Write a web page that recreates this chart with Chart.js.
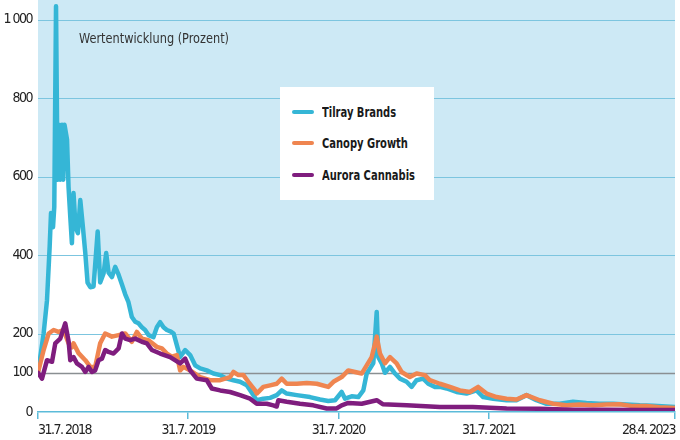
<!DOCTYPE html>
<html>
<head>
<meta charset="utf-8">
<script src="https://cdn.jsdelivr.net/npm/chart.js@4.4.1/dist/chart.umd.min.js"></script>
<style>
  html, body { margin: 0; padding: 0; background: #fff; }
  #wrap { position: relative; width: 680px; height: 440px; }
  #note { position: absolute; left: 79px; top: 30px; font: 14px "DejaVu Sans Condensed", "DejaVu Sans", sans-serif; color: #333; white-space: nowrap; transform: scaleX(0.9); transform-origin: left center; }
  #legend { position: absolute; left: 280px; top: 87px; width: 154px; height: 113px; background: #fff; }
  .item { position: absolute; left: 12px; height: 20px; display: flex; align-items: center; white-space: nowrap; font: bold 14px "DejaVu Sans Condensed", "DejaVu Sans", sans-serif; color: #1a1a1a; }
  .sw { width: 22px; height: 4px; border-radius: 2px; margin-right: 8px; }
  .tx { display: inline-block; transform: scaleX(0.79); transform-origin: left center; }
</style>
</head>
<body>
<div id="wrap">
  <canvas id="chart" width="680" height="440"></canvas>
  <div id="note">Wertentwicklung (Prozent)</div>
  <div id="legend">
    <div class="item" style="top:15px"><span class="sw" style="background:#35b6d6"></span><span class="tx">Tilray Brands</span></div>
    <div class="item" style="top:46px"><span class="sw" style="background:#ef8550"></span><span class="tx">Canopy Growth</span></div>
    <div class="item" style="top:78px"><span class="sw" style="background:#7f1d7e"></span><span class="tx">Aurora Cannabis</span></div>
  </div>
</div>
<script>
// x position along the axis (0 = 31.7.2018, 12 per year tick)
var tickPos = [0, 12, 24, 36, 50.91];
var tickLabels = ['31.7. 2018', '31.7. 2019', '31.7. 2020', '31.7. 2021', '28.4. 2023'];
var yTicks = [0, 100, 200, 400, 600, 800, 1000];
var gridVals = [100, 200, 400, 600, 800, 1000];

var tilrayX = [0, 0.45, 0.72, 0.93, 1.04, 1.2, 1.3, 1.44, 1.56, 1.68,
  1.78, 1.92, 2.02, 2.12, 2.32, 2.44, 2.58, 2.71, 2.84, 3.0,
  3.19, 3.38, 3.59, 3.78, 3.96, 4.18, 4.44, 4.77, 4.97, 5.24,
  5.45, 5.64, 5.91, 6.17, 6.44, 6.71, 6.97, 7.23, 7.5, 7.77,
  8.03, 8.3, 8.56, 8.83, 9.23, 9.5, 9.76, 10.03, 10.3, 10.62,
  10.84, 11.1, 11.36, 11.76, 12.16, 12.56, 12.96, 13.49, 14.02, 14.56,
  15.09, 15.62, 16.15, 16.69, 17.21, 17.48, 18.01, 18.55, 19.08, 19.48,
  19.88, 20.68, 21.74, 22.54, 23.2, 23.74, 24.27, 24.54, 25.07, 25.6,
  26.0, 26.27, 26.53, 26.8, 27.07, 27.2, 27.47, 27.73, 28.13, 28.53,
  28.93, 29.46, 29.86, 30.26, 30.79, 31.19, 31.72, 32.12, 32.66, 33.45,
  34.25, 35.05, 35.58, 36.38, 37.45, 38.24, 39.04, 39.84, 40.64, 41.7,
  42.76, 43.83, 44.89, 45.96, 47.03, 48.09, 49.15, 50.91];
var tilrayY = [100, 200, 285, 420, 507, 471, 522, 1034, 592, 732,
  592, 732, 592, 732, 694, 574, 497, 430, 558, 471,
  456, 540, 471, 405, 330, 318, 320, 460, 330, 353,
  405, 355, 344, 370, 350, 325, 300, 280, 242, 230,
  226, 216, 209, 196, 191, 216, 229, 216, 209, 205,
  200, 170, 140, 158, 145, 119, 111, 106, 98, 94,
  85, 81, 77, 68, 43, 30, 34, 36, 43, 55,
  47, 43, 38, 32, 28, 30, 51, 34, 40, 38,
  55, 98, 111, 125, 255, 140, 124, 100, 115, 98,
  85, 77, 64, 81, 85, 72, 64, 64, 60, 51,
  47, 55, 38, 34, 30, 30, 43, 30, 21, 21,
  26, 23, 21, 21, 19, 17, 16, 13];

var canopyX = [0, 0.45, 0.85, 1.25, 1.64, 2.04, 2.44, 2.71, 2.84, 3.24,
  3.78, 4.18, 4.57, 4.97, 5.37, 5.91, 6.44, 6.97, 7.5, 7.9,
  8.3, 8.83, 9.5, 9.9, 10.3, 10.7, 11.1, 11.36, 11.62, 12.16,
  12.96, 13.76, 14.56, 15.35, 15.62, 16.02, 16.42, 16.81, 17.35, 17.48,
  18.01, 18.55, 19.08, 19.48, 19.88, 20.68, 21.48, 22.28, 23.2, 23.61,
  24.27, 24.8, 25.33, 25.87, 26.27, 26.67, 27.07, 27.33, 27.73, 28.13,
  28.66, 29.06, 29.72, 30.26, 30.92, 31.32, 32.12, 32.92, 33.72, 34.52,
  35.18, 35.85, 36.65, 37.45, 38.24, 39.04, 40.1, 41.17, 42.24, 43.3,
  44.36, 45.43, 46.49, 47.55, 48.62, 49.68, 50.91];
var canopyY = [100, 158, 200, 209, 204, 209, 175, 165, 175, 150,
  132, 115, 115, 175, 200, 192, 196, 200, 179, 204,
  187, 183, 166, 162, 149, 141, 145, 106, 115, 106,
  89, 81, 81, 89, 102, 94, 94, 77, 55, 47,
  64, 68, 72, 85, 72, 72, 74, 72, 64, 77,
  89, 106, 102, 98, 119, 140, 192, 149, 124, 140,
  124, 102, 89, 98, 94, 81, 72, 64, 55, 51,
  64, 47, 38, 34, 32, 43, 30, 21, 17, 19,
  17, 19, 20, 15, 15, 12, 10];

var auroraX = [0, 0.32, 0.72, 1.12, 1.38, 1.78, 2.18, 2.45, 2.58, 2.84,
  3.11, 3.51, 3.78, 4.04, 4.31, 4.57, 4.84, 5.11, 5.37, 5.64,
  6.04, 6.44, 6.71, 6.97, 7.37, 7.77, 8.3, 8.7, 9.1, 9.76,
  10.56, 11.36, 11.76, 12.16, 12.69, 13.49, 13.89, 14.56, 15.35, 16.15,
  16.95, 17.48, 18.28, 18.81, 19.08, 19.21, 19.88, 20.94, 22.0, 23.07,
  23.87, 24.27, 24.8, 25.87, 27.07, 27.55, 29.46, 32.12, 34.75, 37.45,
  40.1, 42.76, 45.43, 48.09, 50.91];
var auroraY = [100, 85, 132, 128, 175, 187, 226, 179, 132, 140,
  124, 115, 102, 115, 102, 106, 132, 136, 158, 153,
  149, 162, 200, 187, 183, 187, 179, 175, 158, 149,
  140, 124, 136, 106, 85, 81, 60, 55, 51, 43,
  34, 21, 21, 17, 14, 30, 26, 21, 17, 9,
  9, 17, 23, 21, 30, 20, 17, 13, 13, 9,
  8, 6, 6, 5, 5];

function pts(xs, ys) {
  return xs.map(function(x, i) { return { x: x, y: ys[i] }; });
}

var plotBg = {
  id: 'plotBg',
  beforeDraw: function(c) {
    var a = c.chartArea, g = c.ctx;
    g.letterSpacing = '-1.5px'; // tighter labels, the original uses a condensed face
    g.save();
    g.fillStyle = '#cde9f5';
    g.fillRect(a.left, a.top, a.right - a.left, a.bottom - a.top);
    g.restore();
  },
  // runs after the white fills, before the lines
  beforeDatasetsDraw: function(c) {
    var a = c.chartArea, g = c.ctx, y = c.scales.y;
    g.save();
    gridVals.forEach(function(v) {
      var py = Math.round(y.getPixelForValue(v)) + 0.5;
      g.strokeStyle = v === 100 ? '#8a8f92' : '#7cc5df';
      g.lineWidth = v === 100 ? 1.5 : 1.2;
      g.beginPath();
      g.moveTo(a.left, py);
      g.lineTo(a.right, py);
      g.stroke();
    });
    g.restore();
  }
};

var tickFont = { family: '"DejaVu Sans Condensed", "DejaVu Sans", sans-serif', size: 14 };

var ctx = document.getElementById('chart').getContext('2d');
var chart = new Chart(ctx, {
  type: 'line',
  data: {
    datasets: [{
      label: 'Aurora Cannabis',
      data: pts(auroraX, auroraY),
      borderColor: '#7f1d7e',
      order: 1
    }, {
      label: 'Canopy Growth',
      data: pts(canopyX, canopyY),
      borderColor: '#ef8550',
      order: 2
    }, {
      label: 'Tilray Brands',
      data: pts(tilrayX, tilrayY),
      borderColor: '#35b6d6',
      order: 3
    }]
  },
  options: {
    responsive: false,
    animation: false,
    layout: { padding: { left: 0, right: 5, top: 0, bottom: 0 } },
    elements: {
      line: { borderWidth: 4.5, tension: 0, fill: 'origin', backgroundColor: '#ffffff', borderJoinStyle: 'round', borderCapStyle: 'round' },
      point: { radius: 0 }
    },
    plugins: {
      legend: { display: false },
      tooltip: { enabled: false },
      filler: { drawTime: 'beforeDatasetsDraw' }
    },
    scales: {
      x: {
        type: 'linear',
        min: 0,
        max: 50.91,
        afterBuildTicks: function(s) { s.ticks = tickPos.map(function(v) { return { value: v }; }); },
        afterFit: function(s) { s.height = 28; s.paddingLeft = 0; s.paddingRight = 0; },
        ticks: {
          align: 'inner',
          autoSkip: false,
          maxRotation: 0,
          padding: 3,
          color: '#222',
          font: tickFont,
          callback: function(v, i) { return tickLabels[i]; }
        },
        grid: { drawOnChartArea: false, drawTicks: true, tickLength: 7, color: '#5cbbd9', lineWidth: 1.5 },
        border: { color: '#5cbbd9', width: 1.5, z: 1 }
      },
      y: {
        min: 0,
        max: 1050,
        afterBuildTicks: function(s) { s.ticks = yTicks.map(function(v) { return { value: v }; }); },
        afterFit: function(s) { s.width = 38; s.paddingTop = 0; s.paddingBottom = 0; },
        ticks: {
          padding: 6,
          color: '#222',
          font: tickFont,
          callback: function(v) { return String(v).replace(/\B(?=(\d{3})+(?!\d))/g, ' '); }
        },
        grid: { display: false, drawTicks: false },
        border: { display: false }
      }
    }
  },
  plugins: [plotBg]
});
</script>
</body>
</html>
